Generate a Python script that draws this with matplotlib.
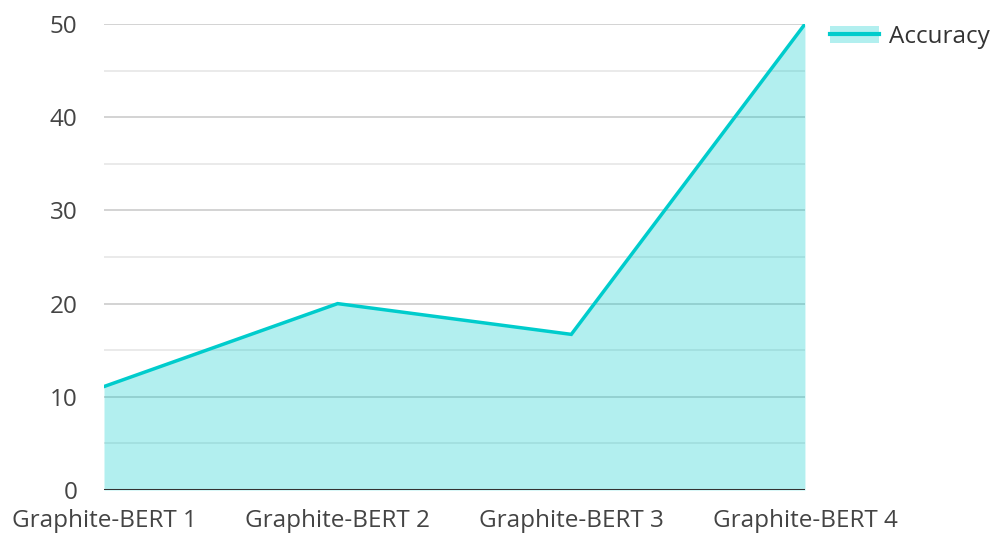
import matplotlib.pyplot as plt
from matplotlib.patches import Patch
from matplotlib.lines import Line2D
import numpy as np

plt.rcParams['font.family'] = ['Open Sans', 'DejaVu Sans']

# Data
categories = ['Graphite-BERT 1', 'Graphite-BERT 2', 'Graphite-BERT 3', 'Graphite-BERT 4']
accuracy = [11.1, 20.0, 16.7, 50.0]
y_ticks = [0, 10, 20, 30, 40, 50]

line_color = '#00cccc'

fig = plt.figure(figsize=(9.95, 5.34), dpi=100)
ax = fig.add_axes([0.1045, 0.0824, 0.7045, 0.8726])

x = np.arange(len(categories))

# grid lines (major every 10, minor every 5)
for v in np.arange(5, 55, 10):
    ax.axhline(v, color='#e6e6e6', linewidth=1.2, zorder=0)
for v in y_ticks[1:]:
    ax.axhline(v, color='#cccccc', linewidth=1.2, zorder=0)

ax.fill_between(x, accuracy, 0, color=line_color, alpha=0.3, linewidth=0, zorder=1)
ax.plot(x, accuracy, color=line_color, linewidth=2.5, zorder=3, solid_joinstyle='miter')

ax.axhline(0, color='#333333', linewidth=2.2, zorder=4)

ax.set_xlim(0, len(categories) - 1)
ax.set_ylim(0, 50)
ax.set_xticks(x)
ax.set_xticklabels(categories)
ax.set_yticks(y_ticks)

for s in ax.spines.values():
    s.set_visible(False)
ax.tick_params(axis='both', length=0, labelsize=17.5, colors='#444444')
ax.tick_params(axis='y', pad=19)
ax.tick_params(axis='x', pad=14)

handle = (Patch(facecolor=line_color, alpha=0.3, edgecolor='none'),
          Line2D([], [], color=line_color, linewidth=3))
ax.legend([handle], ['Accuracy'], loc='upper left', bbox_to_anchor=(1.005, 1.045),
          frameon=False, fontsize=17.5, labelcolor='#333333',
          handlelength=2.0, handletextpad=0.4)

fig.savefig('out.png', dpi=100)
